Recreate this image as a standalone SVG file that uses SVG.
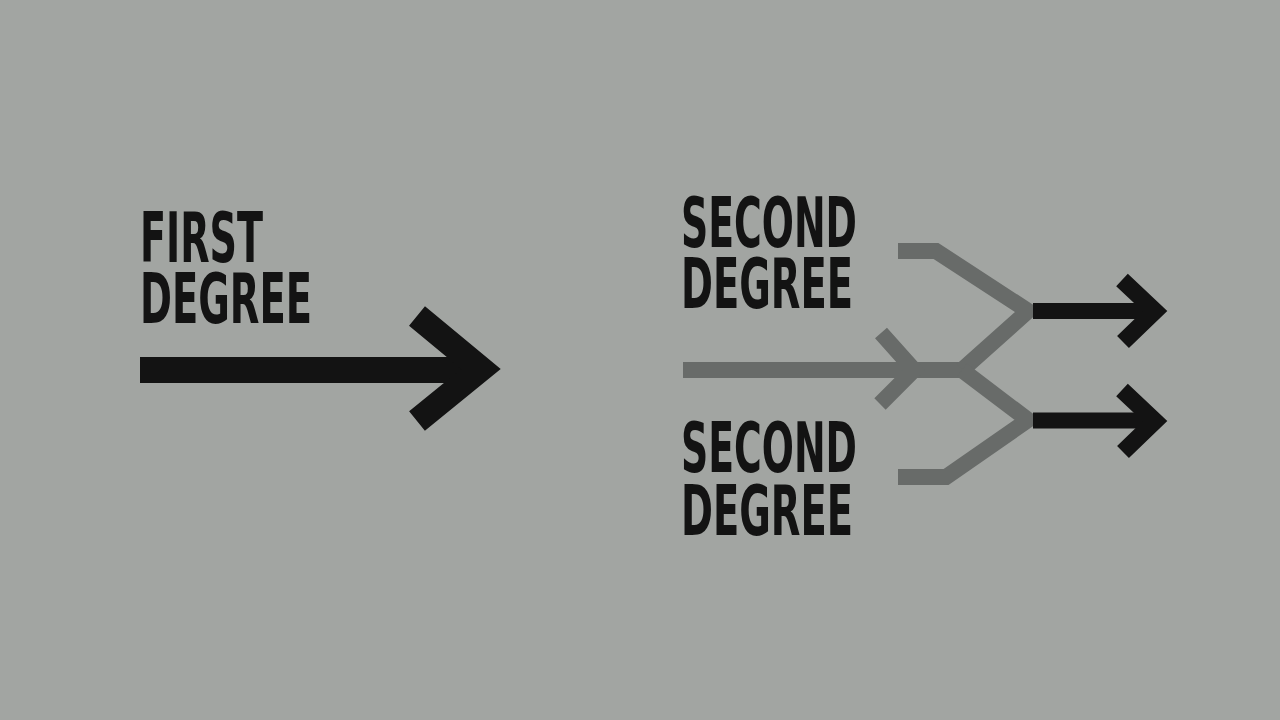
<svg xmlns="http://www.w3.org/2000/svg" width="1280" height="720" viewBox="0 0 1280 720">
  <style>
    .lbl { font-family: "Liberation Sans Narrow", "DejaVu Sans Condensed", "Roboto", sans-serif; font-weight: bold; font-size: 69px; fill: #131313; }
    .blk { fill: none; stroke: #131313; stroke-linejoin: miter; stroke-linecap: butt; stroke-miterlimit: 10; }
    .gry { fill: none; stroke: #686b69; stroke-linejoin: miter; stroke-linecap: butt; stroke-miterlimit: 10; }
  </style>
  <rect width="1280" height="720" fill="#a2a5a2"/>
  <g id="first-degree">
    <text class="lbl"><tspan x="140" y="262" textLength="123" lengthAdjust="spacingAndGlyphs">FIRST</tspan><tspan x="140" y="323" textLength="172" lengthAdjust="spacingAndGlyphs">DEGREE</tspan></text>
  </g>
  <g id="second-degree-top">
    <text class="lbl"><tspan x="681" y="247" textLength="176" lengthAdjust="spacingAndGlyphs">SECOND</tspan><tspan x="681" y="308" textLength="172" lengthAdjust="spacingAndGlyphs">DEGREE</tspan></text>
  </g>
  <g id="second-degree-bottom">
    <text class="lbl"><tspan x="681" y="472" textLength="176" lengthAdjust="spacingAndGlyphs">SECOND</tspan><tspan x="681" y="535" textLength="172" lengthAdjust="spacingAndGlyphs">DEGREE</tspan></text>
  </g>
  <g id="connectors">
    <line class="blk" x1="140" y1="370" x2="478" y2="370" stroke-width="26"/>
    <polyline class="blk" points="417,316 481,369 417,421" stroke-width="25"/>
    <line class="gry" x1="683" y1="370" x2="965" y2="370" stroke-width="16"/>
    <polyline class="gry" points="881,333 914,370 880,404" stroke-width="16"/>
    <polyline class="gry" points="898,251 936,251 1028,311 962,370" stroke-width="16"/>
    <polyline class="gry" points="898,477 946,477 1028,420 962,370" stroke-width="16"/>
    <line class="blk" x1="1033" y1="311" x2="1158" y2="311" stroke-width="16"/>
    <polyline class="blk" points="1122,280 1155,311 1123,342" stroke-width="17"/>
    <line class="blk" x1="1033" y1="420.5" x2="1158" y2="420.5" stroke-width="16"/>
    <polyline class="blk" points="1122,390 1155,421 1123,452" stroke-width="17"/>
  </g>
</svg>
